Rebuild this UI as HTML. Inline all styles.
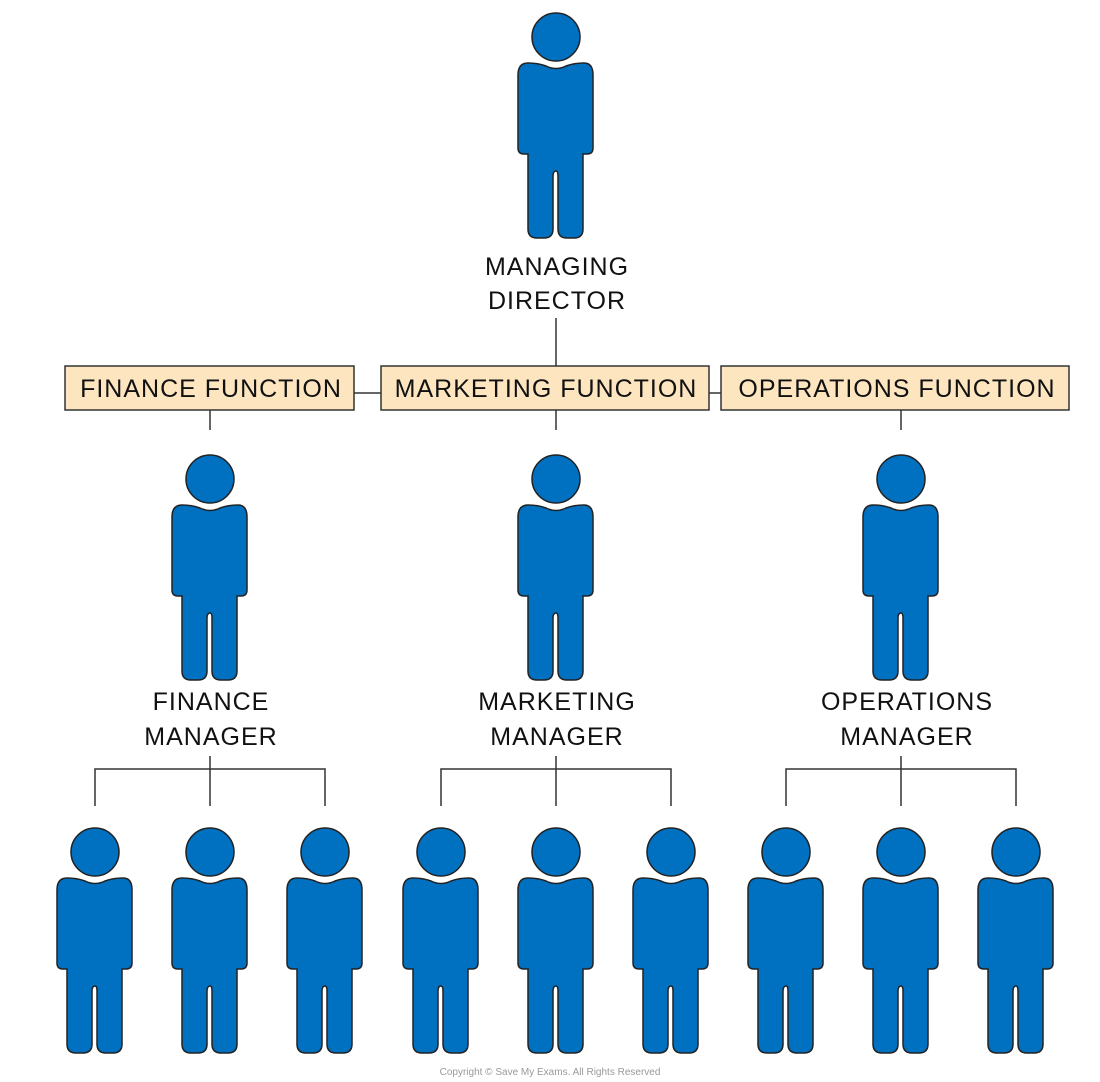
<!DOCTYPE html>
<html><head><meta charset="utf-8"><style>
html,body{margin:0;padding:0;background:#fff;}
svg{display:block;}
text{font-family:"Liberation Sans",sans-serif;fill:#111;}
</style></head><body>
<svg width="1100" height="1082" viewBox="0 0 1100 1082" xmlns="http://www.w3.org/2000/svg">
<defs>
<g id="p">
<circle cx="0" cy="24" r="24" fill="#0070c0" stroke="#222" stroke-width="1.5"/>
<path d="M -28,50 Q -18,50 -10,53 Q 0,58 10,53 Q 18,50 28,50 Q 37,50 37,62 L 37,135 Q 37,141 31,141 L 27,141 L 27,216 Q 27,225 18,225 L 11,225 Q 2,225 2,216 L 2,163 Q 2,158 0,158 Q -3,158 -3,163 L -3,216 Q -3,225 -12,225 L -19,225 Q -28,225 -28,216 L -28,141 L -32,141 Q -38,141 -38,135 L -38,62 Q -38,50 -28,50 Z" fill="#0070c0" stroke="#222" stroke-width="1.5"/>
</g>
</defs>
<g stroke="#333" stroke-width="1.5" fill="none">
<line x1="556" y1="318" x2="556" y2="366"/>
<line x1="354" y1="393" x2="381" y2="393"/>
<line x1="709" y1="393" x2="721" y2="393"/>
<line x1="210" y1="410" x2="210" y2="430"/>
<line x1="556" y1="410" x2="556" y2="430"/>
<line x1="901" y1="410" x2="901" y2="430"/>
<path d="M95,806 V769 H325 V806 M210,756 V806"/>
<path d="M441,806 V769 H671 V806 M556,756 V806"/>
<path d="M786,806 V769 H1016 V806 M901,756 V806"/>
</g>
<g fill="#fde5c0" stroke="#333" stroke-width="1.5">
<rect x="65" y="366" width="289" height="44"/>
<rect x="381" y="366" width="328" height="44"/>
<rect x="721" y="366" width="348" height="44"/>
</g>
<g font-size="25" text-anchor="middle" letter-spacing="1">
<text x="211" y="397">FINANCE FUNCTION</text>
<text x="546" y="397">MARKETING FUNCTION</text>
<text x="897" y="397">OPERATIONS FUNCTION</text>
<text x="557" y="275">MANAGING</text>
<text x="557" y="309">DIRECTOR</text>
<text x="211" y="710">FINANCE</text>
<text x="211" y="745">MANAGER</text>
<text x="557" y="710">MARKETING</text>
<text x="557" y="745">MANAGER</text>
<text x="907" y="710">OPERATIONS</text>
<text x="907" y="745">MANAGER</text>
</g>
<text x="550" y="1075" font-size="10" text-anchor="middle" style="fill:#999">Copyright © Save My Exams. All Rights Reserved</text>
<use href="#p" x="556" y="13"/>
<use href="#p" x="210" y="455"/>
<use href="#p" x="556" y="455"/>
<use href="#p" x="901" y="455"/>
<use href="#p" x="95" y="828"/>
<use href="#p" x="210" y="828"/>
<use href="#p" x="325" y="828"/>
<use href="#p" x="441" y="828"/>
<use href="#p" x="556" y="828"/>
<use href="#p" x="671" y="828"/>
<use href="#p" x="786" y="828"/>
<use href="#p" x="901" y="828"/>
<use href="#p" x="1016" y="828"/>
</svg>
</body></html>
